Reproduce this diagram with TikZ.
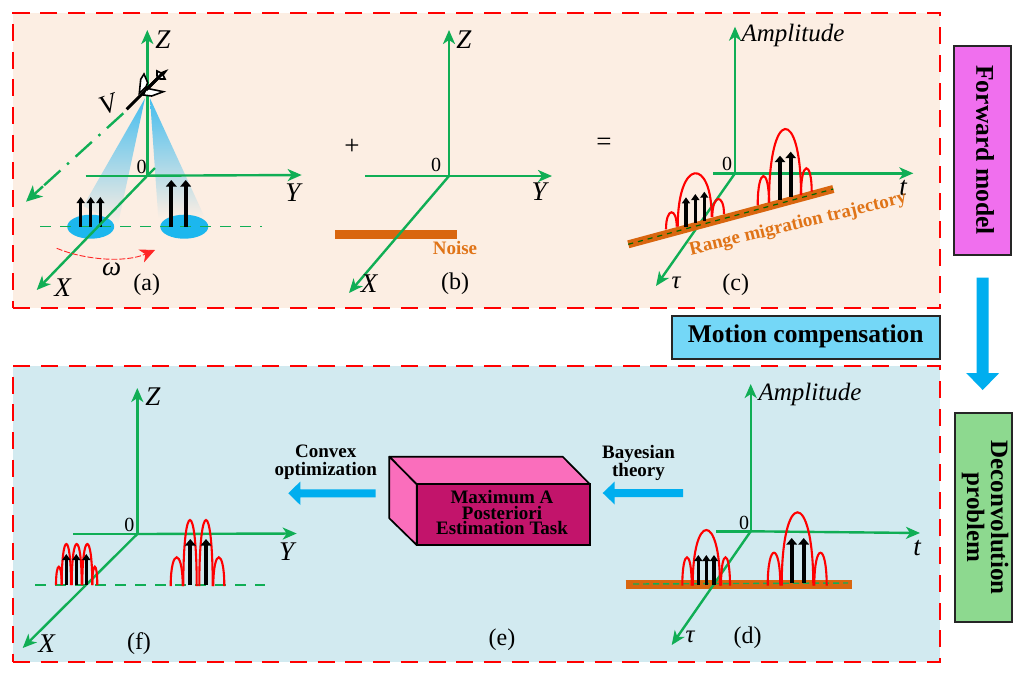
\documentclass[tikz,border=0pt]{standalone}
\usepackage{fontspec}
\setmainfont{Liberation Serif}
\usetikzlibrary{arrows.meta,shapes.geometric}
\definecolor{gax}{HTML}{10AE55}
\definecolor{skyb}{HTML}{00AEEF}
\definecolor{ell}{HTML}{1CB7EE}
\definecolor{barc}{HTML}{D9660F}
\definecolor{txto}{HTML}{E07418}
\definecolor{pa}{HTML}{FCEEE3}
\definecolor{pb}{HTML}{D2EAF0}
\definecolor{fwc}{HTML}{F06FEE}
\definecolor{dec}{HTML}{8DD98F}
\definecolor{mcc}{HTML}{74D7F7}
\definecolor{boxf}{HTML}{C2146B}
\definecolor{boxt}{HTML}{FA6EBC}
\definecolor{beam}{HTML}{45BDEE}
\newcommand{\fs}[1]{\fontsize{#1}{#1}\selectfont}
\tikzset{
 panel/.style={draw=red,line width=2.4pt,dash pattern=on 17pt off 10.7pt,inner sep=0pt},
 ax/.style={gax,line width=2.4pt,-{Stealth[length=14pt,width=12pt,inset=4pt]}},
 gdash/.style={gax,line width=1.5pt,dash pattern=on 11pt off 9pt},
 lobe/.style={red,line width=2.1pt},
 spike/.style={black,line width=3.2pt,-{Triangle[length=6pt,width=8pt]}},
 bigspike/.style={black,line width=4.2pt,-{Triangle[length=6.5pt,width=10.5pt]}},
 lab/.style={inner sep=0pt,font=\fs{24}},
 axl/.style={inner sep=0pt,font=\fs{27}\itshape},
 zero/.style={inner sep=0pt,font=\fs{20}},
 bt/.style={inner sep=0pt,font=\fs{19}\bfseries,align=center},
 side/.style={draw=black!85,line width=2pt,inner sep=0pt,minimum width=#1},
 block/.style={fill=skyb,draw=none},
}
\newcommand{\axes}[9]{%
 \coordinate (#1O) at (#2,#3);
 \coordinate (#1T) at (#2,#4);
 \coordinate (#1L) at (#5,#3);
 \coordinate (#1R) at (#6,#7);
 \coordinate (#1E) at (#8,#9);
 \draw[ax] (#1O) -- (#1T);
 \draw[gax,line width=2.4pt] (#1L) -- (#1O);
 \draw[ax] (#1O) -- (#1R);
 \draw[ax] (#1O) -- (#1E);
}
% arch: x1,y1,x2,y2,peak y
\newcommand{\arch}[5]{%
 \pgfmathsetmacro{\yc}{(8*#5-#2-#4)/6}%
 \draw[lobe] (#1,#2) .. controls (#1,\yc) and (#3,\yc) .. (#3,#4);
}
\begin{document}
\begin{tikzpicture}[x=1pt,y=-1pt]
\useasboundingbox (0,0) rectangle (1024,675);
\fill[white] (0,0) rectangle (1024,675);
% panels
\node[panel,fill=pa,minimum width=927pt,minimum height=295.5pt] (top) at (476.5,160.5) {};
\node[panel,fill=pb,minimum width=927pt,minimum height=296pt] (bot) at (476.5,514) {};
% right column
\node[side=56.5pt,fill=fwc,minimum height=209pt] (fw) at (982.5,150.3) {};
\node[rotate=-90,inner sep=0pt,font=\fs{25.5}\bfseries] (fwt) at (985,150) {Forward model};
\node[side=56.5pt,fill=dec,minimum height=209pt] (de) at (983.3,517.2) {};
\node[rotate=-90,inner sep=0pt,font=\fs{25}\bfseries,align=center] (det) at (985,517.5) {Deconvolution\\[-1pt]problem};
\node[side=268pt,fill=mcc,minimum height=43pt] (mc) at (805.8,337.6) {};
\node[inner sep=0pt,font=\fs{25.5}\bfseries] (mct) at (805.7,336.5) {Motion compensation};
\fill[block] (976.7,277.7) -- (988.7,277.7) -- (988.7,373) -- (999.2,373) -- (982.7,390) -- (966.2,373) -- (976.7,373) -- cycle;
% ---------- panel a
\shade[top color=beam,bottom color=pa] (145,98.3) -- (83.3,206) -- (118,224) -- cycle;
\shade[top color=beam,bottom color=pa] (150,98.3) -- (158.3,218) -- (205,218) -- cycle;
\node[ellipse,fill=ell,minimum width=47pt,minimum height=24pt,inner sep=0pt] (e1) at (90.7,226.7) {};
\node[ellipse,fill=ell,minimum width=48pt,minimum height=24pt,inner sep=0pt] (e2) at (184.3,226.7) {};
\coordinate (d1) at (40,226.7); \coordinate (d2) at (261.7,226.7);
\draw[gdash] (d1) -- (d2);
\foreach \x in {80.7,90.7,100.3} \draw[spike] (\x,226.7) -- (\x,197);
\foreach \x in {171.3,185.7} \draw[bigspike] (\x,226.7) -- (\x,180);
\axes{a}{147.3}{175.7}{30}{85.7}{301.7}{175}{36.7}{290}
\draw[gax,line width=2.4pt] (aO) -- (155,168);
\coordinate (v1) at (123.3,113.3); \coordinate (v3) at (43,186.3); \coordinate (v2) at (26,201.7);
\draw[gax,line width=2.4pt,dash pattern=on 22pt off 9pt on 2.5pt off 9pt] (v1) -- (v3);
\draw[gax,line width=2.4pt,-{Stealth[length=16pt,width=15pt,inset=4.5pt]}] (v3) -- (v2);
\coordinate (w1) at (56.7,248.3); \coordinate (w2) at (155,250);
\draw[red!85!white,line width=.9pt,dash pattern=on 6pt off 2pt,-{Stealth[length=15pt,width=14pt,inset=4.5pt]}] (w1) .. controls (85,260) and (125,263) .. (w2);
% aircraft
\draw[black,line width=3pt] (126.7,109.3) -- (160,76);
\filldraw[fill=white,draw=black,line width=1.6pt] (146,86.7) -- (139.3,93.3) -- (140.7,79.3) -- (144,74) -- (147.7,82.7) -- cycle;
\filldraw[fill=white,draw=black,line width=1.6pt] (146.7,88.3) -- (163.3,91.7) -- (151.7,96) -- (143.3,95) -- cycle;
\filldraw[fill=white,draw=black,line width=1.6pt] (157,76) -- (157,71) -- (161,73) -- (166,71) -- (163,75) -- (165,79) -- (160,79) -- cycle;
\draw[black,line width=3pt] (146,90) -- (163,73);
\node[axl] (aZ) at (163,40) {Z};
\node[axl] (aY) at (293,193) {Y};
\node[axl] (aX) at (62.7,288) {X};
\node[axl,rotate=20] (aV) at (108,105) {V};
\node[zero] (a0) at (141.7,167) {0};
\node[axl] (aw) at (111.7,269) {ω};
\node[lab] (la) at (146.7,285) {(a)};
% ---------- panel b
\fill[barc] (335,230) rectangle (457,239);
\axes{b}{449}{176}{30}{365}{552}{176}{349}{293}
\node[axl] (bZ) at (464,40) {Z};
\node[axl] (bY) at (539,192) {Y};
\node[axl] (bX) at (369,284) {X};
\node[zero] (b0) at (436,165) {0};
\node[lab] (lb) at (455,284) {(b)};
\node[inner sep=0pt,font=\fs{27}] (pl) at (352,147) {+};
\node[bt,text=txto] (noi) at (455,248) {Noise};
% ---------- panel c
\axes{c}{735}{173.3}{26.7}{713.3}{913.3}{173.3}{656}{286}
\coordinate (cb1) at (628.3,244.3); \coordinate (cb2) at (833.3,189);
\draw[barc,line width=8pt] (cb1) -- (cb2);
\draw[black!60!green,line width=1.2pt,dash pattern=on 5pt off 5pt] (cb1) -- (cb2);
\arch{666}{229.3}{676.7}{226.7}{212.3}
\arch{677.7}{226.7}{711.7}{217}{173.3}
\arch{712.3}{217}{724}{214}{199}
\arch{757.7}{205}{769}{202.7}{176}
\arch{769}{202.7}{801}{195}{129}
\arch{801}{194.3}{811.7}{191.7}{168.3}
\draw[spike] (686,226.7) -- (686,197.3);
\draw[spike] (695.3,223.3) -- (695.3,194);
\draw[spike] (704.3,220.7) -- (704.3,191.7);
\draw[bigspike] (780,200) -- (780,155.7);
\draw[bigspike] (790.7,196.7) -- (790.7,151.7);
\node[font=\fs{25}\itshape,inner sep=0pt] (cA) at (793,35) {Amplitude};
\node[zero] (c0) at (727,164) {0};
\node[axl] (ct) at (903,188) {t};
\node[font=\fs{25}\itshape,inner sep=0pt] (ctau) at (676,283) {τ};
\node[lab] (lc) at (735.7,285) {(c)};
\node[inner sep=0pt,font=\fs{27}] (eq) at (604,144) {=};
\node[bt,text=txto,rotate=13.6] (rmt) at (798,224.5) {Range migration trajectory};
% ---------- panel d
\coordinate (db1) at (625.7,584.3); \coordinate (db2) at (851.7,584.3);
\draw[barc,line width=9.5pt] (db1) -- (db2);
\coordinate (dd1) at (633,584); \coordinate (dd2) at (848,583);
\draw[gax,line width=1.4pt,dash pattern=on 6pt off 4pt] (dd1) -- (dd2);
\axes{d}{750.7}{531.3}{384}{716}{920}{533}{671.7}{645}
\arch{682.3}{585.7}{691.7}{585.7}{557.3}
\arch{692.7}{585.7}{720}{585.7}{530}
\arch{721}{585.7}{730}{585.7}{557.3}
\arch{767.7}{585.7}{780.3}{585.7}{552.7}
\arch{781.7}{585.7}{813.3}{585.7}{512.3}
\arch{814.3}{585.7}{826.7}{585.7}{552.7}
\foreach \x in {698.3,706.3,714} \draw[spike] (\x,585) -- (\x,555);
\foreach \x in {791.7,803.7} \draw[bigspike] (\x,583.3) -- (\x,538);
\node[font=\fs{25}\itshape,inner sep=0pt] (dA) at (810,394) {Amplitude};
\node[zero] (d0) at (744,523) {0};
\node[axl] (dt) at (917,548) {t};
\node[font=\fs{25}\itshape,inner sep=0pt] (dtau) at (690,637) {τ};
\node[lab] (ld) at (747.7,638) {(d)};
\node[bt] (bay) at (638.5,463) {Bayesian\\[-1.5pt]theory};
\fill[block] (683,489) -- (614.7,489) -- (614.7,481.5) -- (602.7,493) -- (614.7,504.5) -- (614.7,497) -- (683,497) -- cycle;
% ---------- panel e
\filldraw[fill=boxt,draw=black,line width=1.7pt,line join=round]
  (389.3,456.7) -- (562.7,456.7) -- (590,484.3) -- (416.7,484.3) -- cycle;
\filldraw[fill=boxt,draw=black,line width=1.7pt,line join=round]
  (389.3,456.7) -- (416.7,484.3) -- (416.7,545) -- (389.3,518.3) -- cycle;
\node[draw=black,line width=1.7pt,fill=boxf,minimum width=173.3pt,minimum height=60.7pt,inner sep=0pt] (map) at (503.3,514.6) {};
\node[bt] (mapt) at (502,512.5) {Maximum A\\[-3.5pt]Posteriori\\[-3.5pt]Estimation Task};
\node[bt] (cvx) at (325.7,462) {Convex\\[-1.5pt]optimization};
\fill[block] (375.7,489.3) -- (300.3,489.3) -- (300.3,481.5) -- (288.3,493.3) -- (300.3,505) -- (300.3,497.3) -- (375.7,497.3) -- cycle;
% ---------- panel f
\coordinate (f1) at (35,585); \coordinate (f2) at (265,585);
\draw[gdash] (f1) -- (f2);
\axes{f}{137.3}{534}{388}{73.3}{296.7}{533.5}{22.7}{648}
\arch{56}{585}{61.7}{585}{566.7}
\arch{61.7}{585}{71}{585}{544}
\arch{71.7}{585}{81.7}{585}{544}
\arch{82.3}{585}{92.3}{585}{544}
\arch{92.3}{585}{97.3}{585}{566.7}
\arch{170.7}{586}{182.7}{586}{557.3}
\arch{183.3}{586}{196.7}{586}{520}
\arch{199.3}{586}{212.7}{586}{520}
\arch{213.3}{586}{224.3}{586}{557.3}
\foreach \x in {66.3,76.3,86.3} \draw[spike] (\x,585) -- (\x,554);
\foreach \x in {190.3,206} \draw[bigspike] (\x,585) -- (\x,539);
\node[axl] (fZ) at (153,397) {Z};
\node[axl] (fY) at (286.7,552) {Y};
\node[axl] (fX) at (46.7,644) {X};
\node[zero] (f0) at (129.3,525) {0};
\node[lab] (lf) at (139,644) {(f)};
\node[lab] (le) at (502,640) {(e)};
\end{tikzpicture}
\end{document}
